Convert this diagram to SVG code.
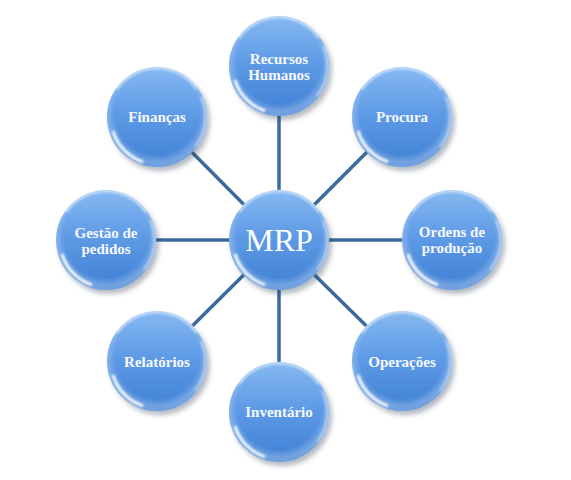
<svg xmlns="http://www.w3.org/2000/svg" xmlns:xlink="http://www.w3.org/1999/xlink" width="571" height="480" viewBox="0 0 571 480">
<style>
.lbl{font-family:"Liberation Serif","Times New Roman",serif;font-weight:bold;font-size:15px;fill:#f6f9ff;text-anchor:middle}
.big{font-family:"Liberation Serif","Times New Roman",serif;font-size:32px;fill:#ffffff;text-anchor:middle}
.conn{stroke:#3b6b9b;stroke-width:3.5;fill:none}
</style>
<defs>
<linearGradient id="fillG" x1="0" y1="0" x2="0" y2="1">
<stop offset="0" stop-color="#86b9f1"/>
<stop offset="0.45" stop-color="#5f9be6"/>
<stop offset="1" stop-color="#3f80d4"/>
</linearGradient>
<radialGradient id="gloss" cx="0.5" cy="0.45" r="0.5">
<stop offset="0.85" stop-color="#ffffff" stop-opacity="0"/>
<stop offset="1" stop-color="#ffffff" stop-opacity="0.25"/>
</radialGradient>
<filter id="blur3" x="-30%" y="-30%" width="160%" height="160%"><feGaussianBlur stdDeviation="2.5"/></filter>
<filter id="blur1" x="-30%" y="-30%" width="160%" height="160%"><feGaussianBlur stdDeviation="1"/></filter>
<g id="bubble">
<circle cx="3" cy="4" r="50" fill="#2a3a55" opacity="0.35" filter="url(#blur3)"/>
<circle r="50" fill="url(#fillG)"/>
<circle r="50" fill="url(#gloss)"/>
<path d="M -40 -28 A 49 49 0 0 1 40 -28" stroke="#ffffff" stroke-opacity="0.55" stroke-width="2.5" fill="none" filter="url(#blur1)"/>
<path d="M -44 14 A 47 47 0 0 0 -14 45" stroke="#ffffff" stroke-opacity="0.9" stroke-width="3" fill="none" filter="url(#blur1)"/>
<path d="M 44 -20 A 48 48 0 0 1 38 30" stroke="#ffffff" stroke-opacity="0.5" stroke-width="2" fill="none" filter="url(#blur1)"/>
</g>
</defs>
<rect width="571" height="480" fill="#ffffff"/>
<g id="connectors">
<line class="conn" x1="279" y1="240" x2="279" y2="66"/>
<line class="conn" x1="279" y1="240" x2="402" y2="117"/>
<line class="conn" x1="279" y1="240" x2="452" y2="240"/>
<line class="conn" x1="279" y1="240" x2="402" y2="361"/>
<line class="conn" x1="279" y1="240" x2="279" y2="412"/>
<line class="conn" x1="279" y1="240" x2="157" y2="361"/>
<line class="conn" x1="279" y1="240" x2="106" y2="240"/>
<line class="conn" x1="279" y1="240" x2="157" y2="117"/>
</g>
<g id="node-rh"><use xlink:href="#bubble" x="279" y="66"/><text class="lbl" x="279" y="64">Recursos</text><text class="lbl" x="279" y="80">Humanos</text></g>
<g id="node-procura"><use xlink:href="#bubble" x="402" y="117"/><text class="lbl" x="402" y="122">Procura</text></g>
<g id="node-ordens"><use xlink:href="#bubble" x="452" y="240"/><text class="lbl" x="452" y="237">Ordens de</text><text class="lbl" x="452" y="253">produção</text></g>
<g id="node-operacoes"><use xlink:href="#bubble" x="402" y="361"/><text class="lbl" x="402" y="367">Operações</text></g>
<g id="node-inventario"><use xlink:href="#bubble" x="279" y="412"/><text class="lbl" x="279" y="417">Inventário</text></g>
<g id="node-relatorios"><use xlink:href="#bubble" x="157" y="361"/><text class="lbl" x="157" y="367">Relatórios</text></g>
<g id="node-gestao"><use xlink:href="#bubble" x="106" y="240"/><text class="lbl" x="106" y="238">Gestão de</text><text class="lbl" x="106" y="254">pedidos</text></g>
<g id="node-financas"><use xlink:href="#bubble" x="157" y="117"/><text class="lbl" x="157" y="122">Finanças</text></g>
<g id="node-mrp"><use xlink:href="#bubble" x="279" y="240"/><text class="big" x="279" y="251">MRP</text></g>
</svg>
